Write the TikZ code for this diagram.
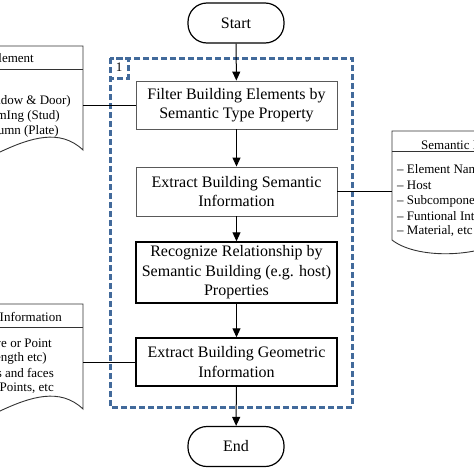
\documentclass[tikz,border=0pt]{standalone}
\usepackage{fontspec}
\setmainfont{Liberation Serif}
\usetikzlibrary{arrows.meta}
\definecolor{grpblue}{RGB}{66,106,155}

\begin{document}
\begin{tikzpicture}[x=1pt,y=-1pt,
  box/.style={draw=black!65,line width=0.9pt,minimum width=201pt,align=center,
    inner sep=0pt,font=\fontsize{16}{19.5}\selectfont},
  boldbox/.style={box,draw=black,line width=1.5pt},
  term/.style={draw,line width=1.2pt,rounded corners=19pt,minimum width=96pt,
    minimum height=40pt,font=\fontsize{16}{19}\selectfont},
  doc/.style={draw=black!80,line width=0.9pt},
  item/.style={inner sep=0pt,font=\fontsize{13}{15}\selectfont},
  dashbox/.style={draw=grpblue,line width=3pt,dash pattern=on 6pt off 3pt},
  flow/.style={-{Triangle[length=9pt,width=8pt]},line width=1pt},
  link/.style={line width=0.8pt}]
\useasboundingbox (0,0) rectangle (474,474);
\clip (0,0) rectangle (474,474);
\fill[white] (0,0) rectangle (474,474);

% group frame
\draw[dashbox] (110,58) rectangle (352,407);
\draw[dashbox] (110,58) rectangle (128,78);
\node[item] (grpnum) at (119,67) {1};

% main flow
\node[term] (start) at (236,23) {Start};
\node[box,minimum height=48pt] (filter) at (236.5,105) {Filter Building Elements by\\Semantic Type Property};
\node[box,minimum height=49pt] (sem) at (236.5,191.5) {Extract Building Semantic\\Information};
\node[boldbox,minimum height=61pt] (rel) at (236.5,272.5) {Recognize Relationship by\\Semantic Building (e.g. host)\\Properties};
\node[boldbox,minimum height=48pt] (geo) at (236.5,362) {Extract Building Geometric\\Information};
\node[term] (end) at (236,446.5) {End};

\draw[flow] (start) -- (filter);
\draw[flow] (filter) -- (sem);
\draw[flow] (sem) -- (rel);
\draw[flow] (rel) -- (geo);
\draw[flow] (geo) -- (end);

% element document
\draw[doc] (-83,46) -- (83,46) -- (83,150) .. controls (60,128) and (30,138) .. (0,152)
  .. controls (-30,166) and (-60,172) .. (-83,150) -- cycle;
\draw[doc] (-83,69) -- (83,69);
\node[item,anchor=east] (elemhead) at (34,59) {Building Element};
\node[item,anchor=east] (elem1) at (71,101) {-- Wall (Window \& Door)};
\node[item,anchor=east] (elem2) at (60,116) {-- FramIng (Stud)};
\node[item,anchor=east] (elem3) at (59,131) {-- Column (Plate)};
\coordinate (elemR) at (83,105);
\draw[link] (filter.west) -- (elemR);

% semantic document
\draw[doc] (392,131) -- (612,131) -- (612,240) .. controls (590,222) and (530,224) .. (502,242)
  .. controls (470,258) and (415,258) .. (392,240) -- cycle;
\draw[doc] (392,151) -- (612,151);
\node[item,anchor=west] (semhead) at (421,145) {Semantic Information};
\node[item,anchor=west] (sem1) at (397,169) {-- Element Name};
\node[item,anchor=west] (sem2) at (397,185) {-- Host};
\node[item,anchor=west] (sem3) at (397,201) {-- Subcomponent};
\node[item,anchor=west] (sem4) at (397,216) {-- Funtional Intent};
\node[item,anchor=west] (sem5) at (397,231) {-- Material, etc};
\coordinate (semL) at (392,191.5);
\draw[link] (sem.east) -- (semL);

% geometric document
\draw[doc] (-83,304) -- (83,304) -- (83,409) .. controls (60,387) and (30,397) .. (0,411)
  .. controls (-30,425) and (-60,431) .. (-83,409) -- cycle;
\draw[doc] (-83,327) -- (83,327);
\node[item,anchor=east] (geohead) at (62,317) {Geometric Information};
\node[item,anchor=east] (geo1) at (52,343) {-- Curve or Point};
\node[item,anchor=east] (geo2) at (47,358) {-- Line (Length etc)};
\node[item,anchor=east] (geo3) at (54,373) {-- Lines and faces};
\node[item,anchor=east] (geo4) at (54,389) {-- Key Points, etc};
\coordinate (geoR) at (83,362);
\draw[link] (geo.west) -- (geoR);
\end{tikzpicture}
\end{document}
